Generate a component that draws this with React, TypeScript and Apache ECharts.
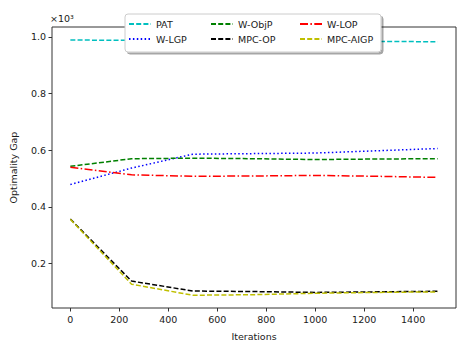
import React, { useEffect, useRef } from "react";
import * as echarts from "echarts";

const iterations = [0, 250, 500, 750, 1000, 1250, 1500];
const pat = [0.989, 0.988, 0.987, 0.986, 0.985, 0.984, 0.983];
const wLgp = [0.479, 0.537, 0.586, 0.588, 0.590, 0.598, 0.606];
const wObjp = [0.543, 0.570, 0.572, 0.570, 0.567, 0.569, 0.570];
const mpcOp = [0.357, 0.138, 0.103, 0.101, 0.098, 0.100, 0.102];
const wLop = [0.540, 0.513, 0.508, 0.509, 0.511, 0.508, 0.504];
const mpcAigp = [0.356, 0.127, 0.088, 0.090, 0.095, 0.098, 0.100];

const xTicks = [0, 200, 400, 600, 800, 1000, 1200, 1400];
const yTicks = [0.2, 0.4, 0.6, 0.8, 1.0];

const FONT = "DejaVu Sans";

export default function App() {
  const ref = useRef<HTMLDivElement>(null);
  useEffect(() => {
    if (!ref.current) return;
    const chart = echarts.init(ref.current, undefined, { renderer: "svg" });
    const mk = (name: string, data: number[], color: string, type: any) => ({
      name,
      type: "line",
      data: iterations.map((x, i) => [x, data[i]]),
      symbol: "none",
      lineStyle: { color, width: 1.5, type },
      itemStyle: { color },
      z: 2,
    });
    const dashed = [5, 2.2];
    const legendCommon = {
      orient: "vertical",
      top: 19,
      padding: 0,
      itemWidth: 22,
      itemHeight: 12,
      itemGap: 5,
      itemStyle: { opacity: 0 },
      textStyle: { fontFamily: FONT, fontSize: 9.5, color: "#1a1a1a" },
      z: 20,
    };
    chart.setOption({
      animation: false,
      grid: {
        left: 50,
        right: 18,
        top: 27,
        bottom: 47,
        show: true,
        borderColor: "#333",
        borderWidth: 1,
        backgroundColor: "transparent",
      },
      xAxis: {
        type: "value",
        min: -75,
        max: 1575,
        name: "Iterations",
        nameLocation: "middle",
        nameGap: 23,
        nameTextStyle: { fontFamily: FONT, fontSize: 9.5, color: "#1a1a1a" },
        splitLine: { show: false },
        axisLine: { show: false, onZero: false },
        axisTick: { show: true, length: 3.5, lineStyle: { color: "#333" }, customValues: xTicks },
        axisLabel: {
          fontFamily: FONT,
          fontSize: 9.5,
          color: "#1a1a1a",
          margin: 6,
          customValues: xTicks,
          formatter: (v: number) => String(v),
        },
      },
      yAxis: {
        type: "value",
        min: 0.043,
        max: 1.035,
        name: "Optimality Gap",
        nameLocation: "middle",
        nameGap: 34,
        nameTextStyle: { fontFamily: FONT, fontSize: 9.5, color: "#1a1a1a" },
        splitLine: { show: false },
        axisLine: { show: false, onZero: false },
        axisTick: { show: true, length: 3.5, lineStyle: { color: "#333" }, customValues: yTicks },
        axisLabel: {
          fontFamily: FONT,
          fontSize: 9.5,
          color: "#1a1a1a",
          margin: 6,
          customValues: yTicks,
          formatter: (v: number) => v.toFixed(1),
        },
      },
      legend: [
        { ...legendCommon, left: 128, data: ["PAT", "W-LGP"] },
        { ...legendCommon, left: 210, data: ["W-ObjP", "MPC-OP"] },
        { ...legendCommon, left: 299, data: ["W-LOP", "MPC-AIGP"] },
      ],
      graphic: [
        {
          type: "rect",
          z: 10,
          shape: { x: 125, y: 14, width: 256, height: 38, r: 3 },
          style: {
            fill: "#fff",
            stroke: "#cccccc",
            lineWidth: 1,
            shadowBlur: 0,
            shadowOffsetX: 2,
            shadowOffsetY: 2,
            shadowColor: "rgba(0,0,0,0.35)",
          },
        },
        {
          type: "text",
          z: 10,
          left: 50,
          top: 13,
          style: { text: "×10³", fontFamily: FONT, fontSize: 9.5, fill: "#1a1a1a" },
        },
      ],
      series: [
        mk("PAT", pat, "#00bfbf", dashed),
        mk("W-LGP", wLgp, "#0000ff", [1.5, 2.4]),
        mk("W-ObjP", wObjp, "#008000", dashed),
        mk("MPC-OP", mpcOp, "#000000", dashed),
        mk("W-LOP", wLop, "#ff0000", [8, 2.4, 1.5, 2.4]),
        mk("MPC-AIGP", mpcAigp, "#bfbf00", dashed),
      ],
    });
    return () => chart.dispose();
  }, []);
  return (
    <div
      ref={ref}
      style={{ position: "fixed", left: 0, top: 0, width: 474, height: 355, background: "#fff" }}
    />
  );
}
